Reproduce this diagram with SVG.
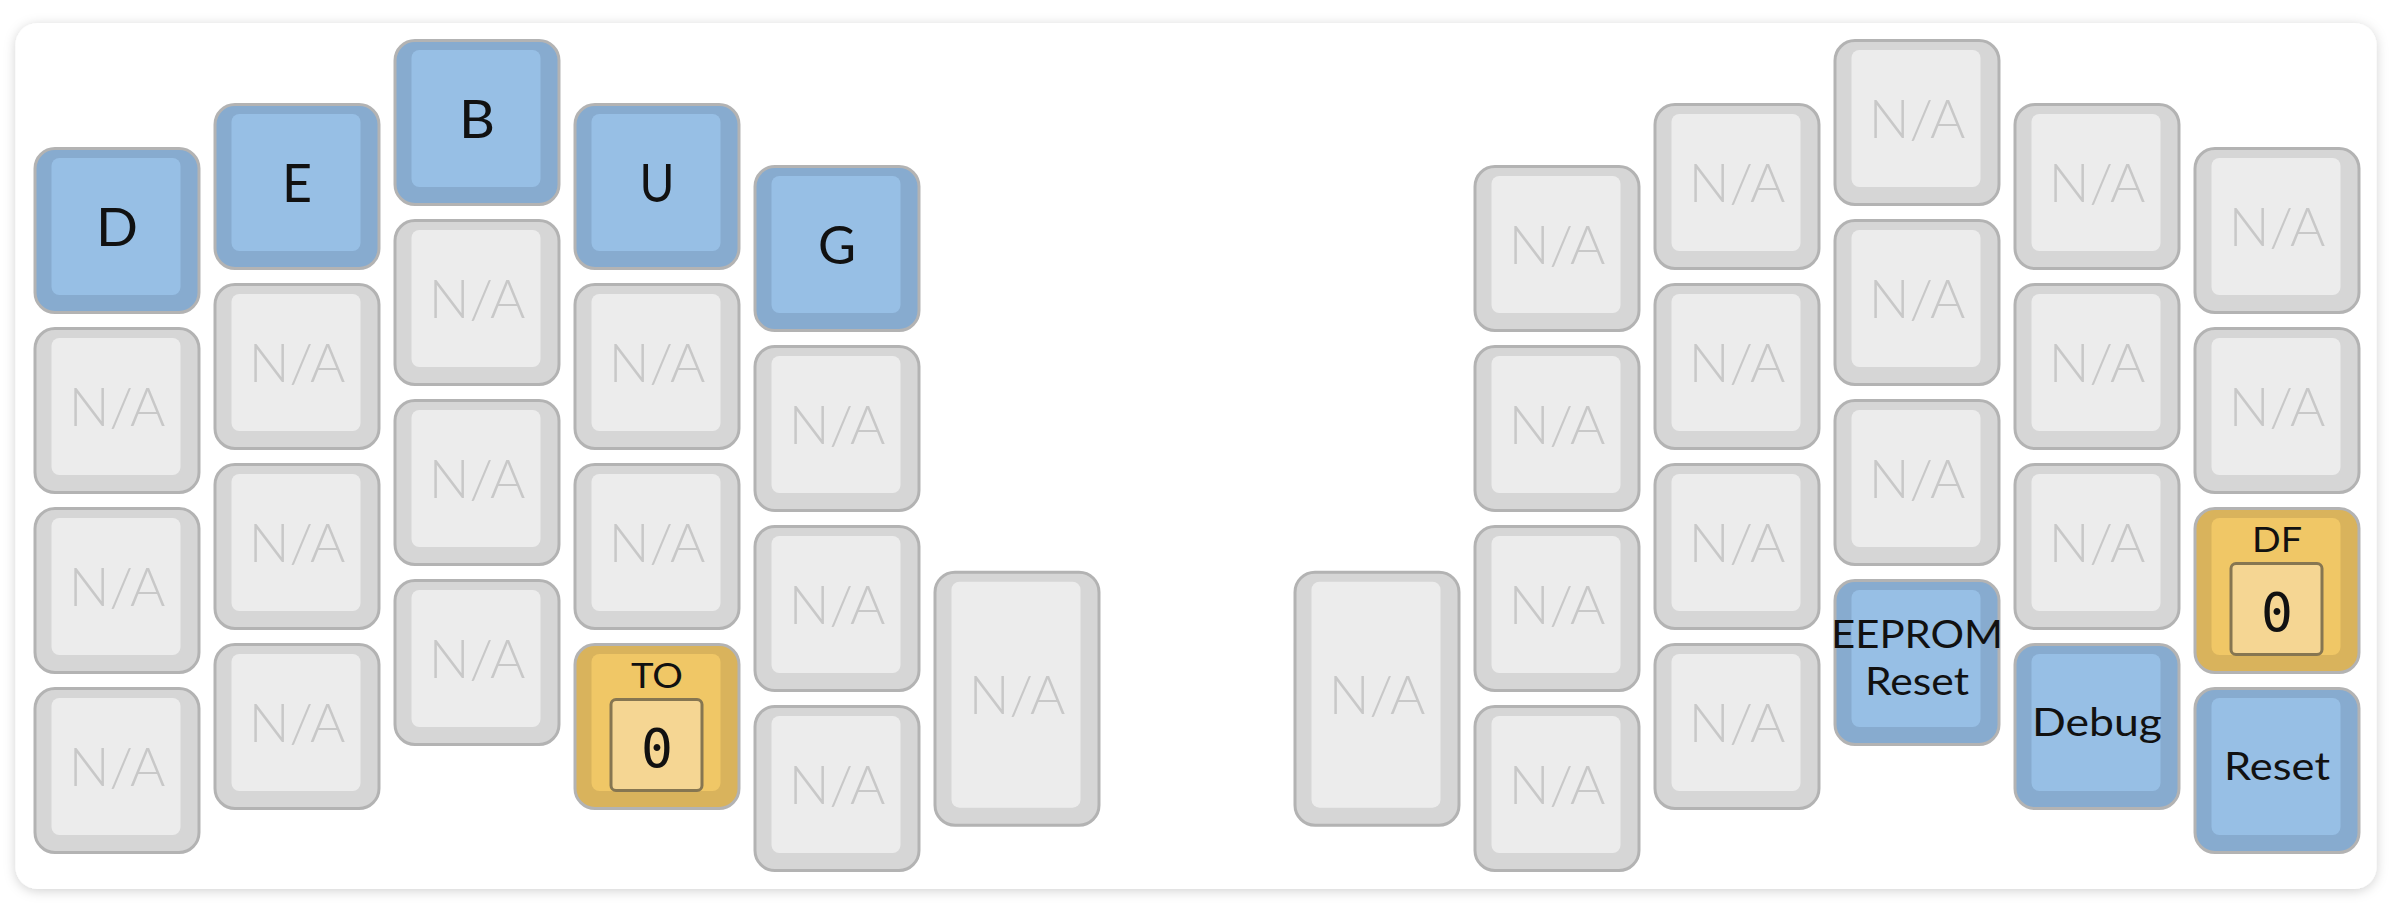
<svg xmlns="http://www.w3.org/2000/svg" width="2394" height="908" viewBox="0 0 2394 908">
<defs>
<filter id="sh" x="-5%" y="-5%" width="110%" height="115%">
<feDropShadow dx="0" dy="2" stdDeviation="6" flood-color="#000" flood-opacity="0.18"/>
</filter>
<style>
.o{stroke:#b3b3b3;stroke-width:3}
.g .o{fill:#d6d6d6}.g .i{fill:#ececec}
.b .o{fill:#87abcf}.b .i{fill:#97bfe5}
.y .o{fill:#d9b35c}.y .i{fill:#f0c766}
.bx{fill:#f5d693;stroke:#867651;stroke-width:3}
text{font-family:Lato,"Noto Sans","DejaVu Sans",sans-serif;text-anchor:middle}
.na{font-size:54px;fill:#c8c8c8;font-weight:300}
.lt{font-size:53px;fill:#111;font-weight:400}
.md{font-size:39px;fill:#111;font-weight:400}
.sm{font-size:34px;fill:#111;font-weight:400}
.mono{font-family:"DejaVu Sans Mono","Liberation Mono",monospace;font-size:53px;fill:#111}
</style>
</defs>
<rect x="0" y="0" width="2394" height="908" fill="#ffffff"/>
<rect x="15.5" y="23" width="2361" height="866" rx="22" fill="#ffffff" filter="url(#sh)"/>

<g id="connectors"></g>

<!-- Left half -->
<g id="key-D" class="b" transform="translate(33.5,147)"><rect class="o" x="1.5" y="1.5" width="164" height="164" rx="20"/><rect class="i" x="18" y="11" width="129" height="137" rx="8"/><text class="lt" x="83.5" y="99" textLength="42" lengthAdjust="spacingAndGlyphs">D</text></g>
<g id="key-l0-1" class="g" transform="translate(33.5,327)"><rect class="o" x="1.5" y="1.5" width="164" height="164" rx="20"/><rect class="i" x="18" y="11" width="129" height="137" rx="8"/><text class="na" x="83.5" y="99">N/A</text></g>
<g id="key-l0-2" class="g" transform="translate(33.5,507)"><rect class="o" x="1.5" y="1.5" width="164" height="164" rx="20"/><rect class="i" x="18" y="11" width="129" height="137" rx="8"/><text class="na" x="83.5" y="99">N/A</text></g>
<g id="key-l0-3" class="g" transform="translate(33.5,687)"><rect class="o" x="1.5" y="1.5" width="164" height="164" rx="20"/><rect class="i" x="18" y="11" width="129" height="137" rx="8"/><text class="na" x="83.5" y="99">N/A</text></g>

<g id="key-E" class="b" transform="translate(213.5,103)"><rect class="o" x="1.5" y="1.5" width="164" height="164" rx="20"/><rect class="i" x="18" y="11" width="129" height="137" rx="8"/><text class="lt" x="83.5" y="99" textLength="30" lengthAdjust="spacingAndGlyphs">E</text></g>
<g id="key-l1-1" class="g" transform="translate(213.5,283)"><rect class="o" x="1.5" y="1.5" width="164" height="164" rx="20"/><rect class="i" x="18" y="11" width="129" height="137" rx="8"/><text class="na" x="83.5" y="99">N/A</text></g>
<g id="key-l1-2" class="g" transform="translate(213.5,463)"><rect class="o" x="1.5" y="1.5" width="164" height="164" rx="20"/><rect class="i" x="18" y="11" width="129" height="137" rx="8"/><text class="na" x="83.5" y="99">N/A</text></g>
<g id="key-l1-3" class="g" transform="translate(213.5,643)"><rect class="o" x="1.5" y="1.5" width="164" height="164" rx="20"/><rect class="i" x="18" y="11" width="129" height="137" rx="8"/><text class="na" x="83.5" y="99">N/A</text></g>

<g id="key-B" class="b" transform="translate(393.5,39)"><rect class="o" x="1.5" y="1.5" width="164" height="164" rx="20"/><rect class="i" x="18" y="11" width="129" height="137" rx="8"/><text class="lt" x="83.5" y="99" textLength="36" lengthAdjust="spacingAndGlyphs">B</text></g>
<g id="key-l2-1" class="g" transform="translate(393.5,219)"><rect class="o" x="1.5" y="1.5" width="164" height="164" rx="20"/><rect class="i" x="18" y="11" width="129" height="137" rx="8"/><text class="na" x="83.5" y="99">N/A</text></g>
<g id="key-l2-2" class="g" transform="translate(393.5,399)"><rect class="o" x="1.5" y="1.5" width="164" height="164" rx="20"/><rect class="i" x="18" y="11" width="129" height="137" rx="8"/><text class="na" x="83.5" y="99">N/A</text></g>
<g id="key-l2-3" class="g" transform="translate(393.5,579)"><rect class="o" x="1.5" y="1.5" width="164" height="164" rx="20"/><rect class="i" x="18" y="11" width="129" height="137" rx="8"/><text class="na" x="83.5" y="99">N/A</text></g>

<g id="key-U" class="b" transform="translate(573.5,103)"><rect class="o" x="1.5" y="1.5" width="164" height="164" rx="20"/><rect class="i" x="18" y="11" width="129" height="137" rx="8"/><text class="lt" x="83.5" y="99" textLength="35" lengthAdjust="spacingAndGlyphs">U</text></g>
<g id="key-l3-1" class="g" transform="translate(573.5,283)"><rect class="o" x="1.5" y="1.5" width="164" height="164" rx="20"/><rect class="i" x="18" y="11" width="129" height="137" rx="8"/><text class="na" x="83.5" y="99">N/A</text></g>
<g id="key-l3-2" class="g" transform="translate(573.5,463)"><rect class="o" x="1.5" y="1.5" width="164" height="164" rx="20"/><rect class="i" x="18" y="11" width="129" height="137" rx="8"/><text class="na" x="83.5" y="99">N/A</text></g>
<g id="key-TO" class="y" transform="translate(573.5,643)"><rect class="o" x="1.5" y="1.5" width="164" height="164" rx="20"/><rect class="i" x="18" y="11" width="129" height="137" rx="8"/><text class="sm" x="83.5" y="45" textLength="52" lengthAdjust="spacingAndGlyphs">TO</text><rect class="bx" x="37.5" y="56.5" width="91" height="91" rx="5"/><text class="mono" x="83.5" y="124">0</text></g>

<g id="key-G" class="b" transform="translate(753.5,165)"><rect class="o" x="1.5" y="1.5" width="164" height="164" rx="20"/><rect class="i" x="18" y="11" width="129" height="137" rx="8"/><text class="lt" x="83.5" y="99" textLength="38" lengthAdjust="spacingAndGlyphs">G</text></g>
<g id="key-l4-1" class="g" transform="translate(753.5,345)"><rect class="o" x="1.5" y="1.5" width="164" height="164" rx="20"/><rect class="i" x="18" y="11" width="129" height="137" rx="8"/><text class="na" x="83.5" y="99">N/A</text></g>
<g id="key-l4-2" class="g" transform="translate(753.5,525)"><rect class="o" x="1.5" y="1.5" width="164" height="164" rx="20"/><rect class="i" x="18" y="11" width="129" height="137" rx="8"/><text class="na" x="83.5" y="99">N/A</text></g>
<g id="key-l4-3" class="g" transform="translate(753.5,705)"><rect class="o" x="1.5" y="1.5" width="164" height="164" rx="20"/><rect class="i" x="18" y="11" width="129" height="137" rx="8"/><text class="na" x="83.5" y="99">N/A</text></g>

<g id="key-l-thumb" class="g" transform="translate(933.5,570.7)"><rect class="o" x="1.5" y="1.5" width="164" height="253" rx="20"/><rect class="i" x="18" y="11" width="129" height="226" rx="8"/><text class="na" x="83.5" y="143">N/A</text></g>

<!-- Right half -->
<g id="key-r-thumb" class="g" transform="translate(1293.5,570.7)"><rect class="o" x="1.5" y="1.5" width="164" height="253" rx="20"/><rect class="i" x="18" y="11" width="129" height="226" rx="8"/><text class="na" x="83.5" y="143">N/A</text></g>

<g id="key-r0-0" class="g" transform="translate(1473.5,165)"><rect class="o" x="1.5" y="1.5" width="164" height="164" rx="20"/><rect class="i" x="18" y="11" width="129" height="137" rx="8"/><text class="na" x="83.5" y="99">N/A</text></g>
<g id="key-r0-1" class="g" transform="translate(1473.5,345)"><rect class="o" x="1.5" y="1.5" width="164" height="164" rx="20"/><rect class="i" x="18" y="11" width="129" height="137" rx="8"/><text class="na" x="83.5" y="99">N/A</text></g>
<g id="key-r0-2" class="g" transform="translate(1473.5,525)"><rect class="o" x="1.5" y="1.5" width="164" height="164" rx="20"/><rect class="i" x="18" y="11" width="129" height="137" rx="8"/><text class="na" x="83.5" y="99">N/A</text></g>
<g id="key-r0-3" class="g" transform="translate(1473.5,705)"><rect class="o" x="1.5" y="1.5" width="164" height="164" rx="20"/><rect class="i" x="18" y="11" width="129" height="137" rx="8"/><text class="na" x="83.5" y="99">N/A</text></g>

<g id="key-r1-0" class="g" transform="translate(1653.5,103)"><rect class="o" x="1.5" y="1.5" width="164" height="164" rx="20"/><rect class="i" x="18" y="11" width="129" height="137" rx="8"/><text class="na" x="83.5" y="99">N/A</text></g>
<g id="key-r1-1" class="g" transform="translate(1653.5,283)"><rect class="o" x="1.5" y="1.5" width="164" height="164" rx="20"/><rect class="i" x="18" y="11" width="129" height="137" rx="8"/><text class="na" x="83.5" y="99">N/A</text></g>
<g id="key-r1-2" class="g" transform="translate(1653.5,463)"><rect class="o" x="1.5" y="1.5" width="164" height="164" rx="20"/><rect class="i" x="18" y="11" width="129" height="137" rx="8"/><text class="na" x="83.5" y="99">N/A</text></g>
<g id="key-r1-3" class="g" transform="translate(1653.5,643)"><rect class="o" x="1.5" y="1.5" width="164" height="164" rx="20"/><rect class="i" x="18" y="11" width="129" height="137" rx="8"/><text class="na" x="83.5" y="99">N/A</text></g>

<g id="key-r2-0" class="g" transform="translate(1833.5,39)"><rect class="o" x="1.5" y="1.5" width="164" height="164" rx="20"/><rect class="i" x="18" y="11" width="129" height="137" rx="8"/><text class="na" x="83.5" y="99">N/A</text></g>
<g id="key-r2-1" class="g" transform="translate(1833.5,219)"><rect class="o" x="1.5" y="1.5" width="164" height="164" rx="20"/><rect class="i" x="18" y="11" width="129" height="137" rx="8"/><text class="na" x="83.5" y="99">N/A</text></g>
<g id="key-r2-2" class="g" transform="translate(1833.5,399)"><rect class="o" x="1.5" y="1.5" width="164" height="164" rx="20"/><rect class="i" x="18" y="11" width="129" height="137" rx="8"/><text class="na" x="83.5" y="99">N/A</text></g>
<g id="key-EEPROM-Reset" class="b" transform="translate(1833.5,579)"><rect class="o" x="1.5" y="1.5" width="164" height="164" rx="20"/><rect class="i" x="18" y="11" width="129" height="137" rx="8"/><text class="md" x="83.5" y="69" textLength="172" lengthAdjust="spacingAndGlyphs">EEPROM</text><text class="md" x="83.5" y="116" textLength="104" lengthAdjust="spacingAndGlyphs">Reset</text></g>

<g id="key-r3-0" class="g" transform="translate(2013.5,103)"><rect class="o" x="1.5" y="1.5" width="164" height="164" rx="20"/><rect class="i" x="18" y="11" width="129" height="137" rx="8"/><text class="na" x="83.5" y="99">N/A</text></g>
<g id="key-r3-1" class="g" transform="translate(2013.5,283)"><rect class="o" x="1.5" y="1.5" width="164" height="164" rx="20"/><rect class="i" x="18" y="11" width="129" height="137" rx="8"/><text class="na" x="83.5" y="99">N/A</text></g>
<g id="key-r3-2" class="g" transform="translate(2013.5,463)"><rect class="o" x="1.5" y="1.5" width="164" height="164" rx="20"/><rect class="i" x="18" y="11" width="129" height="137" rx="8"/><text class="na" x="83.5" y="99">N/A</text></g>
<g id="key-Debug" class="b" transform="translate(2013.5,643)"><rect class="o" x="1.5" y="1.5" width="164" height="164" rx="20"/><rect class="i" x="18" y="11" width="129" height="137" rx="8"/><text class="md" x="83.5" y="93" textLength="130" lengthAdjust="spacingAndGlyphs">Debug</text></g>

<g id="key-r4-0" class="g" transform="translate(2193.5,147)"><rect class="o" x="1.5" y="1.5" width="164" height="164" rx="20"/><rect class="i" x="18" y="11" width="129" height="137" rx="8"/><text class="na" x="83.5" y="99">N/A</text></g>
<g id="key-r4-1" class="g" transform="translate(2193.5,327)"><rect class="o" x="1.5" y="1.5" width="164" height="164" rx="20"/><rect class="i" x="18" y="11" width="129" height="137" rx="8"/><text class="na" x="83.5" y="99">N/A</text></g>
<g id="key-DF" class="y" transform="translate(2193.5,507)"><rect class="o" x="1.5" y="1.5" width="164" height="164" rx="20"/><rect class="i" x="18" y="11" width="129" height="137" rx="8"/><text class="sm" x="83.5" y="45" textLength="50" lengthAdjust="spacingAndGlyphs">DF</text><rect class="bx" x="37.5" y="56.5" width="91" height="91" rx="5"/><text class="mono" x="83.5" y="124">0</text></g>
<g id="key-Reset" class="b" transform="translate(2193.5,687)"><rect class="o" x="1.5" y="1.5" width="164" height="164" rx="20"/><rect class="i" x="18" y="11" width="129" height="137" rx="8"/><text class="md" x="83.5" y="93" textLength="106" lengthAdjust="spacingAndGlyphs">Reset</text></g>
</svg>
